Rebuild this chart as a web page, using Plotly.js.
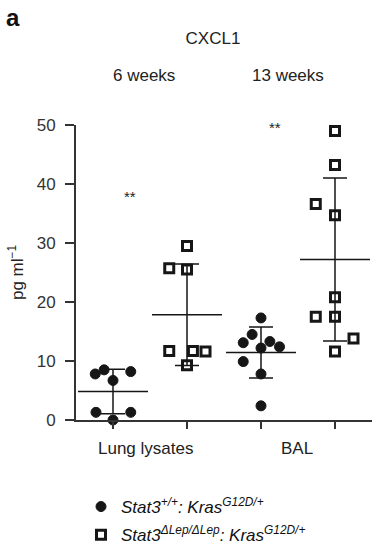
<!DOCTYPE html>
<html>
<head>
<meta charset="utf-8">
<script src="https://cdn.plot.ly/plotly-3.0.1.min.js"></script>
<style>
html,body{margin:0;padding:0;background:#fff;}
#chart{width:374px;height:549px;}
</style>
</head>
<body>
<div id="chart"></div>
<script>
// ---- data ----
const sampleTypes = ['Lung lysates', 'BAL'];
const ages = ['6 weeks', '13 weeks'];
const seriesNames = ['Stat3<sup>+/+</sup>: Kras<sup>G12D/+</sup>',
                     'Stat3<sup>\u0394Lep/\u0394Lep</sup>: Kras<sup>G12D/+</sup>'];
// pg/ml values per mouse
const lungWT  = [7.8, 8.5, 8.2, 6.7, 1.3, 1.3, 0.0];
const lungKO  = [29.5, 25.7, 25.5, 11.7, 11.7, 11.6, 9.3];
const balWT   = [17.3, 14.5, 13.1, 13.3, 12.4, 12.2, 9.9, 7.8, 2.4];
const balKO   = [49.0, 43.2, 36.6, 34.7, 20.8, 17.5, 17.5, 13.8, 11.6];
const significance = ['**', '**'];
const yTicks = [0, 10, 20, 30, 40, 50];

// ---- layout helpers (horizontal scatter spread of dots, not data) ----
const spreadLungWT = [-0.24, -0.12, 0.24, 0, -0.23, 0.24, 0];
const spreadLungKO = [0, -0.24, 0, -0.24, 0.08, 0.25, 0];
const spreadBalWT  = [0, -0.12, -0.24, 0.12, 0.25, 0, -0.24, 0, 0];
const spreadBalKO  = [0, 0, -0.26, 0, 0, -0.26, 0, 0.25, 0];
const groupPos = [0, 1, 2, 3];

const mean = a => a.reduce((s, v) => s + v, 0) / a.length;
const sd = a => { const m = mean(a); return Math.sqrt(a.reduce((s, v) => s + (v - m) * (v - m), 0) / (a.length - 1)); };

const INK = '#161616';
const groups = [
  {vals: lungWT, spread: spreadLungWT, pos: groupPos[0], ser: 0},
  {vals: lungKO, spread: spreadLungKO, pos: groupPos[1], ser: 1},
  {vals: balWT,  spread: spreadBalWT,  pos: groupPos[2], ser: 0},
  {vals: balKO,  spread: spreadBalKO,  pos: groupPos[3], ser: 1}
];

const traces = [];
[0, 1].forEach(ser => {
  const xs = [], ys = [];
  groups.filter(g => g.ser === ser).forEach(g => {
    g.vals.forEach((v, i) => { xs.push(g.pos + g.spread[i]); ys.push(v); });
  });
  traces.push({
    type: 'scatter', mode: 'markers', x: xs, y: ys, name: seriesNames[ser],
    cliponaxis: false, legendgroup: 'g' + ser,
    marker: ser === 0
      ? {symbol: 'circle', size: 10, color: INK, line: {color: INK, width: 1}}
      : {symbol: 'square-open', size: 9, color: INK, line: {color: INK, width: 3}},
    hoverinfo: 'y'
  });
});
groups.forEach(g => {
  traces.push({
    type: 'scatter', mode: 'markers', x: [g.pos], y: [mean(g.vals)], showlegend: false,
    cliponaxis: false,
    marker: {symbol: 'line-ew', size: 50, color: INK, line: {color: INK, width: 1.5}},
    error_y: {type: 'data', array: [sd(g.vals)], visible: true, color: INK, thickness: 1.5, width: 12},
    hoverinfo: 'y'
  });
});

const FONT = 'Liberation Sans, Arial, Helvetica, sans-serif';
const FS = 17;
const px2x = p => (p - 76) / 296;
const px2y = p => (420 - p) / 295;

const annotations = [
  {text: '<b>a</b>', x: px2x(13), y: px2y(17), font: {size: 24, color: '#111'}},
  {text: ages[0], x: px2x(144), y: px2y(76), font: {size: FS, color: '#222'}},
  {text: ages[1], x: px2x(288), y: px2y(76), font: {size: FS, color: '#222'}},
  {text: sampleTypes[0], x: px2x(145), y: px2y(448), font: {size: FS, color: '#222'}},
  {text: sampleTypes[1], x: px2x(297), y: px2y(448), font: {size: FS, color: '#222'}},
  {text: significance[0], x: px2x(130), y: px2y(196), font: {size: 15, color: '#222'}},
  {text: significance[1], x: px2x(275), y: px2y(128), font: {size: 15, color: '#222'}}
].map(a => Object.assign({xref: 'paper', yref: 'paper', showarrow: false, xanchor: 'center', yanchor: 'middle'}, a));

const layout = {
  width: 374, height: 549,
  margin: {l: 76, r: 2, t: 125, b: 129, autoexpand: false},
  paper_bgcolor: '#fff', plot_bgcolor: '#fff',
  font: {family: FONT, size: FS, color: '#222'},
  title: {text: 'CXCL1', x: 213 / 374, xanchor: 'center', y: 1 - 38 / 549, yanchor: 'middle',
          font: {family: FONT, size: FS, color: '#222'}},
  xaxis: {
    range: [-0.5, 3.5], tickvals: groupPos, showticklabels: false,
    ticks: 'outside', ticklen: 7, tickwidth: 1.5, tickcolor: '#333',
    showline: true, linecolor: '#333', linewidth: 2, showgrid: false, zeroline: false, fixedrange: true
  },
  yaxis: {
    range: [0, 50], tickvals: yTicks, ticks: 'outside', ticklen: 9, tickwidth: 1.5, tickcolor: '#333',
    showline: true, linecolor: '#333', linewidth: 2, showgrid: false, zeroline: false,
    tickfont: {size: FS, color: '#333'}, ticklabelstandoff: 6,
    title: {text: 'pg ml<sup>\u22121</sup>', font: {size: FS, color: '#222'}, standoff: 9}, fixedrange: true
  },
  showlegend: true,
  legend: {x: px2x(81), y: px2y(489), xanchor: 'left', yanchor: 'top', tracegroupgap: 3,
           font: {family: FONT, size: FS, color: '#111', style: 'italic'}, bgcolor: 'rgba(0,0,0,0)'},
  annotations: annotations
};

Plotly.newPlot('chart', traces, layout, {displayModeBar: false, staticPlot: true});
</script>
</body>
</html>
